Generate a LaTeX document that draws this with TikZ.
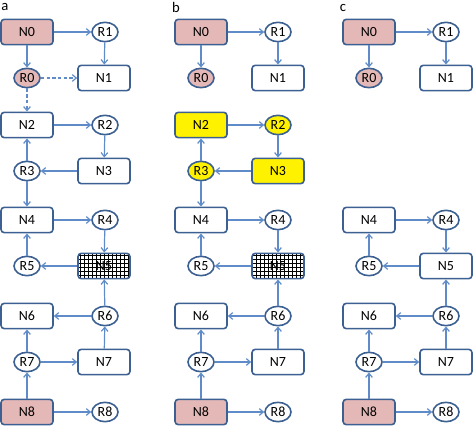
\documentclass[tikz,border=0pt]{standalone}
\usepackage{fontspec}
\setmainfont{Carlito}
\usetikzlibrary{arrows.meta,shapes.geometric,patterns}

\definecolor{nodeline}{RGB}{60,96,145}
\definecolor{flowline}{RGB}{95,140,200}
\definecolor{rosefill}{RGB}{228,184,183}

\tikzset{every picture/.style={line width=0.75pt}}
\tikzset{
  nbox/.style={draw=nodeline, line width=1.2pt, rounded corners=2.5pt, fill=white,
    minimum width=39pt, minimum height=19pt, inner sep=0pt, font=\fontsize{10.5}{12}\selectfont},
  rnode/.style={draw=nodeline, line width=1.2pt, ellipse, fill=white,
    minimum width=19.5pt, minimum height=14.5pt, inner sep=0pt, font=\fontsize{10.5}{12}\selectfont},
  rose/.style={fill=rosefill},
  hot/.style={fill=yellow},
  grid5/.style={pattern=grid, pattern color=black},
  flow/.style={draw=flowline, line width=0.9pt, -{Straight Barb[length=3pt,width=5pt]}},
  dflow/.style={flow, dash pattern={on 2.5pt off 1.8pt}},
  panel/.style={font=\fontsize{11}{12}\selectfont}
}

\begin{document}
\begin{tikzpicture}[x=0.75pt,y=0.75pt,yscale=-1,xscale=1]
\useasboundingbox (0,0) rectangle (474,427);

%Panel labels
\draw (5,7) node [panel] (la) {a};
\draw (176,7) node [panel] (lb) {b};
\draw (343,8) node [panel] (lc) {c};

%Panel a: nodes
\draw (27,32) node [nbox,rose] (aN0) {N0};
\draw (105,32) node [rnode] (aR1) {R1};
\draw (27,78) node [rnode,rose] (aR0) {R0};
\draw (104,78) node [nbox] (aN1) {N1};
\draw (27,125) node [nbox] (aN2) {N2};
\draw (105,125) node [rnode] (aR2) {R2};
\draw (27,171) node [rnode] (aR3) {R3};
\draw (104,171) node [nbox] (aN3) {N3};
\draw (27,220) node [nbox] (aN4) {N4};
\draw (105,220) node [rnode] (aR4) {R4};
\draw (27,266) node [rnode] (aR5) {R5};
\draw (104,266) node [nbox,grid5] (aN5) {N5};
\draw (27,316) node [nbox] (aN6) {N6};
\draw (105,316) node [rnode] (aR6) {R6};
\draw (27,362) node [rnode] (aR7) {R7};
\draw (104,362) node [nbox] (aN7) {N7};
\draw (27,412) node [nbox,rose] (aN8) {N8};
\draw (105,412) node [rnode] (aR8) {R8};

%Panel a: arrows
\draw [flow] (aN0) -- (aR1);
\draw [flow] (aR1) -- (aN1);
\draw [flow] (aN0) -- (aR0);
\draw [dflow] (aR0) -- (aN1);
\draw [dflow] (aR0) -- (aN2);
\draw [flow] (aN2) -- (aR2);
\draw [flow] (aR2) -- (aN3);
\draw [flow] (aN3) -- (aR3);
\draw [flow] (aR3) -- (aN2);
\draw [flow] (aR3) -- (aN4);
\draw [flow] (aN4) -- (aR4);
\draw [flow] (aR4) -- (aN5);
\draw [flow] (aN5) -- (aR5);
\draw [flow] (aR5) -- (aN4);
\draw [flow] (aR6) -- (aN5);
\draw [flow] (aR6) -- (aN6);
\draw [flow] (aN7) -- (aR6);
\draw [flow] (aR7) -- (aN7);
\draw [flow] (aR7) -- (aN6);
\draw [flow] (aN8) -- (aR7);
\draw [flow] (aN8) -- (aR8);

%Panel b: nodes
\draw (201,32) node [nbox,rose] (bN0) {N0};
\draw (278,32) node [rnode] (bR1) {R1};
\draw (201,78) node [rnode,rose] (bR0) {R0};
\draw (278,78) node [nbox] (bN1) {N1};
\draw (201,125) node [nbox,hot] (bN2) {N2};
\draw (278,125) node [rnode,hot] (bR2) {R2};
\draw (201,171) node [rnode,hot] (bR3) {R3};
\draw (278,171) node [nbox,hot] (bN3) {N3};
\draw (201,220) node [nbox] (bN4) {N4};
\draw (278,220) node [rnode] (bR4) {R4};
\draw (201,266) node [rnode] (bR5) {R5};
\draw (278,266) node [nbox,grid5] (bN5) {N5};
\draw (201,316) node [nbox] (bN6) {N6};
\draw (278,316) node [rnode] (bR6) {R6};
\draw (201,362) node [rnode] (bR7) {R7};
\draw (278,362) node [nbox] (bN7) {N7};
\draw (201,412) node [nbox,rose] (bN8) {N8};
\draw (278,412) node [rnode] (bR8) {R8};

%Panel b: arrows
\draw [flow] (bN0) -- (bR1);
\draw [flow] (bR1) -- (bN1);
\draw [flow] (bN0) -- (bR0);
\draw [flow] (bN2) -- (bR2);
\draw [flow] (bR2) -- (bN3);
\draw [flow] (bN3) -- (bR3);
\draw [flow] (bR3) -- (bN2);
\draw [flow] (bR3) -- (bN4);
\draw [flow] (bN4) -- (bR4);
\draw [flow] (bR4) -- (bN5);
\draw [flow] (bN5) -- (bR5);
\draw [flow] (bR5) -- (bN4);
\draw [flow] (bR6) -- (bN5);
\draw [flow] (bR6) -- (bN6);
\draw [flow] (bN7) -- (bR6);
\draw [flow] (bR7) -- (bN7);
\draw [flow] (bR7) -- (bN6);
\draw [flow] (bN8) -- (bR7);
\draw [flow] (bN8) -- (bR8);

%Panel c: nodes
\draw (369,32) node [nbox,rose] (cN0) {N0};
\draw (446,32) node [rnode] (cR1) {R1};
\draw (369,78) node [rnode,rose] (cR0) {R0};
\draw (446,78) node [nbox] (cN1) {N1};
\draw (369,220) node [nbox] (cN4) {N4};
\draw (446,220) node [rnode] (cR4) {R4};
\draw (369,266) node [rnode] (cR5) {R5};
\draw (446,266) node [nbox] (cN5) {N5};
\draw (369,316) node [nbox] (cN6) {N6};
\draw (446,316) node [rnode] (cR6) {R6};
\draw (369,362) node [rnode] (cR7) {R7};
\draw (446,362) node [nbox] (cN7) {N7};
\draw (369,412) node [nbox,rose] (cN8) {N8};
\draw (446,412) node [rnode] (cR8) {R8};

%Panel c: arrows
\draw [flow] (cN0) -- (cR1);
\draw [flow] (cR1) -- (cN1);
\draw [flow] (cN0) -- (cR0);
\draw [flow] (cN4) -- (cR4);
\draw [flow] (cR4) -- (cN5);
\draw [flow] (cN5) -- (cR5);
\draw [flow] (cR5) -- (cN4);
\draw [flow] (cR6) -- (cN5);
\draw [flow] (cR6) -- (cN6);
\draw [flow] (cN7) -- (cR6);
\draw [flow] (cR7) -- (cN7);
\draw [flow] (cR7) -- (cN6);
\draw [flow] (cN8) -- (cR7);
\draw [flow] (cN8) -- (cR8);

\end{tikzpicture}
\end{document}
